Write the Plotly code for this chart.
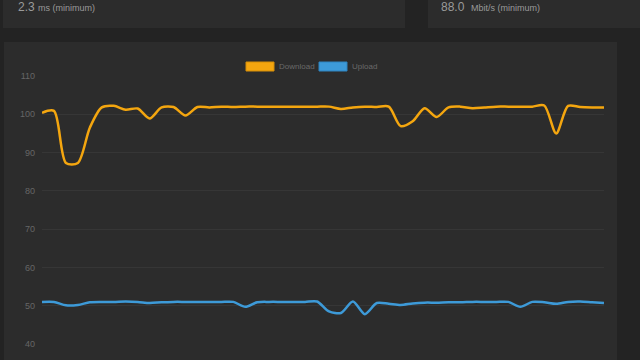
import plotly.graph_objects as go

idx = list(range(48))
download = [100.4, 100.9, 87.3, 87.3, 96.5, 101.8, 102.2, 101.2, 101.5, 98.9,
            101.8, 101.9, 99.7, 101.9, 101.8, 102.0, 101.9, 102.0, 102.0, 102.0,
            102.0, 102.0, 102.0, 102.0, 102.0, 101.4, 101.8, 102.0, 101.9, 102.0,
            96.9, 98.2, 101.6, 99.3, 101.8, 102.0, 101.6, 101.8, 102.0, 102.0,
            102.0, 102.0, 102.3, 95.0, 102.2, 101.9, 101.8, 101.8]
upload = [51.0, 51.0, 50.1, 50.2, 50.9, 51.0, 51.0, 51.1, 51.0, 50.7,
          50.9, 51.0, 51.0, 51.0, 51.0, 51.0, 51.0, 49.7, 50.9, 51.0,
          51.0, 51.0, 51.0, 51.1, 48.5, 48.1, 51.1, 47.8, 50.7, 50.5,
          50.2, 50.6, 50.8, 50.8, 50.9, 50.9, 51.0, 51.0, 51.0, 51.0,
          49.7, 51.0, 50.9, 50.5, 51.0, 51.1, 50.9, 50.7]
yticks = [40, 50, 60, 70, 80, 90, 100, 110]

DL = "#f4a60f"
UL = "#3d9ad8"
W, H = 640, 360
ML, MR, MT, MB = 42, 36, 76, 16
PW, PH = W - ML - MR, H - MT - MB

fig = go.Figure()
fig.add_trace(go.Scatter(x=idx, y=download, mode="lines", name="Download",
                         line=dict(color=DL, width=2.5, shape="spline", smoothing=0.8)))
fig.add_trace(go.Scatter(x=idx, y=upload, mode="lines", name="Upload",
                         line=dict(color=UL, width=2.5, shape="spline", smoothing=0.8)))

def px(x):
    return (x - ML) / PW

def py(y):
    return (H - MB - y) / PH

card = "#2c2c2c"
shapes = [
    dict(type="rect", xref="paper", yref="paper", x0=px(3), x1=px(405), y0=py(28), y1=py(-5),
         fillcolor=card, line=dict(width=0), layer="below"),
    dict(type="rect", xref="paper", yref="paper", x0=px(428), x1=px(645), y0=py(28), y1=py(-5),
         fillcolor=card, line=dict(width=0), layer="below"),
    dict(type="rect", xref="paper", yref="paper", x0=px(4), x1=px(617), y0=py(370), y1=py(42),
         fillcolor=card, line=dict(width=0), layer="below"),
    # legend swatches
    dict(type="rect", xref="paper", yref="paper", x0=px(246), x1=px(274), y0=py(71), y1=py(62),
         fillcolor=DL, line=dict(color="#d58e08", width=1)),
    dict(type="rect", xref="paper", yref="paper", x0=px(319), x1=px(347), y0=py(71), y1=py(62),
         fillcolor=UL, line=dict(color="#2f84c0", width=1)),
]

annotations = [
    dict(x=px(277), y=py(66.5), xref="paper", yref="paper", text="Download", showarrow=False,
         xanchor="left", yanchor="middle", font=dict(size=8, color="#6a6a6a")),
    dict(x=px(350), y=py(66.5), xref="paper", yref="paper", text="Upload", showarrow=False,
         xanchor="left", yanchor="middle", font=dict(size=8, color="#6a6a6a")),
    dict(x=px(16), y=py(7), xref="paper", yref="paper",
         text="<span style='font-size:12px'>2.3</span> <span style='font-size:9px'>ms (minimum)</span>",
         showarrow=False, xanchor="left", yanchor="middle", font=dict(color="#9a9a9a")),
    dict(x=px(439), y=py(7), xref="paper", yref="paper",
         text="<span style='font-size:12px'>88.0</span>  <span style='font-size:9px'>Mbit/s (minimum)</span>",
         showarrow=False, xanchor="left", yanchor="middle", font=dict(color="#9a9a9a")),
]

fig.update_layout(
    width=W, height=H,
    paper_bgcolor="#232323", plot_bgcolor="rgba(0,0,0,0)",
    margin=dict(l=ML, r=MR, t=MT, b=MB),
    showlegend=False,
    font=dict(family="Liberation Sans, Arial, sans-serif"),
    shapes=shapes, annotations=annotations,
    xaxis=dict(range=[0, 47], showgrid=False, showticklabels=False, zeroline=False,
               showline=False, fixedrange=True),
    yaxis=dict(range=[40, 110], tickvals=yticks, showgrid=True, gridcolor="#363636",
               gridwidth=1, zeroline=False, showline=False,
               tickfont=dict(size=9, color="#666666"), ticklabelstandoff=6),
)

fig.write_html("out.html", config={"displayModeBar": False},
               post_script="document.body.style.margin='0';document.body.style.overflow='hidden';")
